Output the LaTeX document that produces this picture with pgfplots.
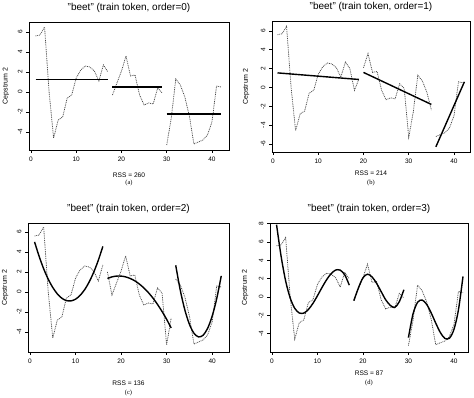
\documentclass[border=0pt]{standalone}
\usepackage{pgfplots}
\pgfplotsset{compat=1.18}
\usepackage{pgfplotstable}
\usepackage{fontspec}
\setmainfont{Liberation Sans}
\newfontfamily\seriffont{Liberation Serif}

\pgfplotstableread{
x y
1 5.6
2 5.7
3 6.5
4 0.0
5 -4.6
6 -2.8
7 -2.5
8 -0.6
9 -0.3
10 1.4
11 2.2
12 2.6
13 2.5
14 2.1
15 1.1
16 2.7
17 2.0
18 -0.3
19 0.9
20 2.1
21 3.6
22 1.6
23 1.7
24 -0.3
25 -1.3
26 -1.1
27 -1.2
28 0.4
29 -0.1
30 -5.3
31 -2.6
32 1.3
33 0.7
34 -0.5
35 -2.4
36 -5.2
37 -5.0
38 -4.8
39 -4.3
40 -3.0
41 0.6
42 0.5
}\rawdata

\pgfplotsset{
  panel/.style={
    scale only axis,
    clip mode=individual,
    axis line style={line width=0.9pt},
    tick pos=left,
    tick align=outside,
    major tick length=3pt,
    every tick/.style={black, line width=0.7pt},
    xtick={0,10,20,30,40},
    /pgf/number format/assume math mode=true,
    ticklabel style={font=\fontsize{6.5}{7}\selectfont},
    yticklabel style={rotate=90, anchor=south},
    every axis title/.style={font=\fontsize{10}{11}\selectfont, at={(axis description cs:0.5,1)}, anchor=south, yshift=6pt},
    xlabel style={font=\fontsize{6.6}{7}\selectfont, at={(axis description cs:0.5,0)}, anchor=center},
    ylabel style={font=\fontsize{7}{8}\selectfont, anchor=center},
  },
  raw/.style={black!72, line width=0.75pt, dash pattern=on 0.9pt off 0.9pt, no markers},
  fit/.style={black, line width=1.4pt, no markers},
}

\begin{document}
\begin{tikzpicture}
\useasboundingbox (0pt,0pt) rectangle (474pt,398pt);

% ---------------- (a) order 0
\begin{axis}[panel, at={(29pt,248pt)}, anchor=south west, width=200pt, height=128pt,
  xmin=-0.44, xmax=43.76, ymin=-5.8, ymax=7.0, ytick={-4,-2,0,2,4,6},
  title={"beet" (train token, order=0)},
  xlabel={RSS = 260}, xlabel style={yshift=-25pt},
  ylabel={Cepstrum 2}, ylabel style={at={(axis description cs:-0.115,0.5)}}]
\addplot[raw, restrict x to domain=1:17] table {\rawdata};
\addplot[raw, restrict x to domain=18:29] table {\rawdata};
\addplot[raw, restrict x to domain=30:42] table {\rawdata};
\addplot[fit] coordinates {(1,1.25) (17,1.25)};
\addplot[fit] coordinates {(18,0.5) (29,0.5)};
\addplot[fit] coordinates {(30,-2.2) (42,-2.2)};
\node[font=\seriffont\fontsize{6.5}{7}\selectfont] at (rel axis cs:0.5,0) [yshift=-33pt] {(a)};
\end{axis}

% ---------------- (b) order 1
\begin{axis}[panel, at={(272pt,246pt)}, anchor=south west, width=198pt, height=131pt,
  xmin=-0.22, xmax=43.54, ymin=-6.85, ymax=7.06, ytick={-6,-4,-2,0,2,4,6},
  title={"beet" (train token, order=1)},
  xlabel={RSS = 214}, xlabel style={yshift=-21pt},
  ylabel={Cepstrum 2}, ylabel style={at={(axis description cs:-0.131,0.5)}}]
\addplot[raw, restrict x to domain=1:19] table {\rawdata};
\addplot[raw, restrict x to domain=20:35] table {\rawdata};
\addplot[raw, restrict x to domain=36:42] table {\rawdata};
\addplot[fit] coordinates {(1,1.55) (19,0.85)};
\addplot[fit] coordinates {(20,1.6) (35,-1.8)};
\addplot[fit] coordinates {(36,-6.3) (42.3,0.6)};
\node[font=\seriffont\fontsize{6.5}{7}\selectfont] at (rel axis cs:0.5,0) [yshift=-31pt] {(b)};
\end{axis}

% ---------------- (c) order 2
\begin{axis}[panel, at={(28pt,46pt)}, anchor=south west, width=201pt, height=129pt,
  xmin=-0.44, xmax=43.7, ymin=-6.0, ymax=6.9, ytick={-4,-2,0,2,4,6},
  title={"beet" (train token, order=2)},
  xlabel={RSS = 136}, xlabel style={yshift=-31pt},
  ylabel={Cepstrum 2}, ylabel style={at={(axis description cs:-0.114,0.5)}}]
\addplot[raw, restrict x to domain=1:16] table {\rawdata};
\addplot[raw, restrict x to domain=17:31] table {\rawdata};
\addplot[raw, restrict x to domain=32:42] table {\rawdata};
\addplot[fit, smooth] coordinates {(1,5.01) (2,3.57) (3,2.32) (4,1.28) (5,0.45) (6,-0.19) (7,-0.63) (8,-0.86) (9,-0.89) (10,-0.72) (11,-0.34) (12,0.23) (13,1.01) (14,1.99) (15,3.17) (16,4.56)};
\addplot[fit, smooth] coordinates {(17,1.35) (18,1.51) (19,1.59) (20,1.59) (21,1.51) (22,1.35) (23,1.12) (24,0.80) (25,0.41) (26,-0.06) (27,-0.61) (28,-1.24) (29,-1.95) (30,-2.73) (31,-3.60)};
\addplot[fit, smooth] coordinates {(32,2.67) (33,0.17) (34,-1.79) (35,-3.22) (36,-4.12) (37,-4.49) (38,-4.33) (39,-3.64) (40,-2.42) (41,-0.67) (42,1.61)};
\node[font=\seriffont\fontsize{6.5}{7}\selectfont] at (rel axis cs:0.5,0) [yshift=-41pt] {(c)};
\end{axis}

% ---------------- (d) order 3
\begin{axis}[panel, at={(270pt,46pt)}, anchor=south west, width=198pt, height=129pt,
  xmin=-0.44, xmax=43.1, ymin=-6.0, ymax=8.09, ytick={-4,-2,0,2,4,6,8},
  title={"beet" (train token, order=3)},
  xlabel={RSS = 87}, xlabel style={yshift=-21pt},
  ylabel={Cepstrum 2}, ylabel style={at={(axis description cs:-0.126,0.5)}}]
\addplot[raw, restrict x to domain=1:17] table {\rawdata};
\addplot[raw, restrict x to domain=18:29] table {\rawdata};
\addplot[raw, restrict x to domain=30:42] table {\rawdata};
\addplot[fit, smooth] coordinates {(1,7.9) (2,4.46) (3,1.76) (4,-0.10) (5,-1.23) (6,-1.74) (7,-1.75) (8,-1.36) (9,-0.69) (10,0.15) (11,1.05) (12,1.89) (13,2.56) (14,2.95) (15,2.94) (16,2.43) (17,1.30)};
\addplot[fit, smooth] coordinates {(18,-0.4) (19,1.0) (20,2.1) (21,2.5) (22,2.2) (23,1.5) (24,0.6) (25,-0.3) (26,-0.9) (27,-1.13) (28,-0.5) (29,0.8)};
\addplot[fit, smooth] coordinates {(30,-4.43) (31,-1.86) (32,-0.58) (33,-0.32) (34,-0.79) (35,-1.73) (36,-2.84) (37,-3.86) (38,-4.51) (39,-4.50) (40,-3.55) (41,-1.39) (42,2.25)};
\node[font=\seriffont\fontsize{6.5}{7}\selectfont] at (rel axis cs:0.5,0) [yshift=-31pt] {(d)};
\end{axis}
\end{tikzpicture}
\end{document}
